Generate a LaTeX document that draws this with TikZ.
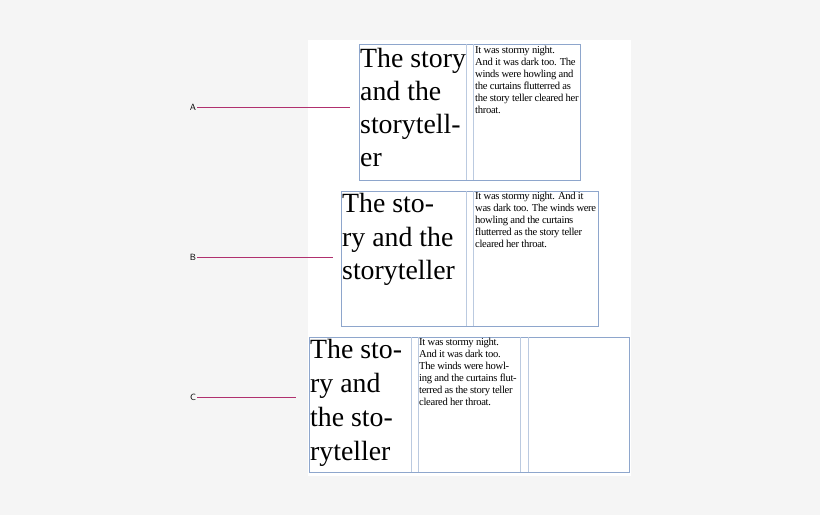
\documentclass[tikz,border=0pt]{standalone}
\usepackage{fontspec}
\setmainfont{Liberation Serif}
\definecolor{frameblue}{HTML}{8EA6CC}
\definecolor{leadred}{RGB}{176,48,110}
\begin{document}
\begin{tikzpicture}[x=1pt,y=-1pt,
  frame/.style={draw=frameblue,line width=0.8pt},
  guide/.style={draw=frameblue!60,line width=0.6pt},
  leaderline/.style={draw=leadred,line width=1pt},
  lbl/.style={font=\fontsize{9}{10}\selectfont\sffamily,inner sep=1pt},
  head/.style={anchor=base west,inner sep=0pt,font=\fontsize{27.8}{30}\selectfont},
  body/.style={anchor=base west,inner sep=0pt,font=\fontsize{10.6}{12}\selectfont\addfontfeature{LetterSpace=-3}}]
\fill[white!96!black] (0,0) rectangle (820,515);
\fill[white] (308,40) rectangle (631,476);
\useasboundingbox (0,0) rectangle (820,515);
% A
\draw[frame] (359,44) rectangle (580,180);
\draw[guide] (466,44) -- (466,180) (473,44) -- (473,180);
\node[head] (a1) at (360,67) {The story};
\node[head] at (360,100) {and the};
\node[head] at (360,133) {storytell-};
\node[head] at (360,166) {er};
\foreach \t [count=\i] in {It was stormy night.,And it was dark too. The,winds were howling and,the curtains flutterred as,the story teller cleared her,throat.}
  \node[body] at (475,41+12*\i) {\t};
\node[lbl] (A) at (193,107) {A};
\coordinate (ae) at (350,107);
\path[leaderline] (A.east) -- (ae);
% B
\draw[frame] (341,191) rectangle (598,326);
\draw[guide] (466,191) -- (466,326) (473,191) -- (473,326);
\node[head] at (342,212) {The sto-};
\node[head] at (342,246) {ry and the};
\node[head] at (342,279) {storyteller};
\foreach \t [count=\i] in {It was stormy night. And it,was dark too. The winds were,howling and the curtains,flutterred as the story teller,cleared her throat.}
  \node[body] at (475,187+12*\i) {\t};
\node[lbl] (B) at (193,257) {B};
\coordinate (be) at (333,257);
\path[leaderline] (B.east) -- (be);
% C
\draw[frame] (309,337) rectangle (629,472);
\draw[guide] (411,337) -- (411,472) (418,337) -- (418,472) (520,337) -- (520,472) (528,337) -- (528,472);
\node[head] at (310,358) {The sto-};
\node[head] at (310,392) {ry and};
\node[head] at (310,426) {the sto-};
\node[head] at (310,460) {ryteller};
\foreach \t [count=\i] in {It was stormy night.,And it was dark too.,The winds were howl-,ing and the curtains flut-,terred as the story teller,cleared her throat.}
  \node[body] at (419,333+12*\i) {\t};
\node[lbl] (C) at (193,397) {C};
\coordinate (ce) at (296,397);
\path[leaderline] (C.east) -- (ce);
\end{tikzpicture}
\end{document}
